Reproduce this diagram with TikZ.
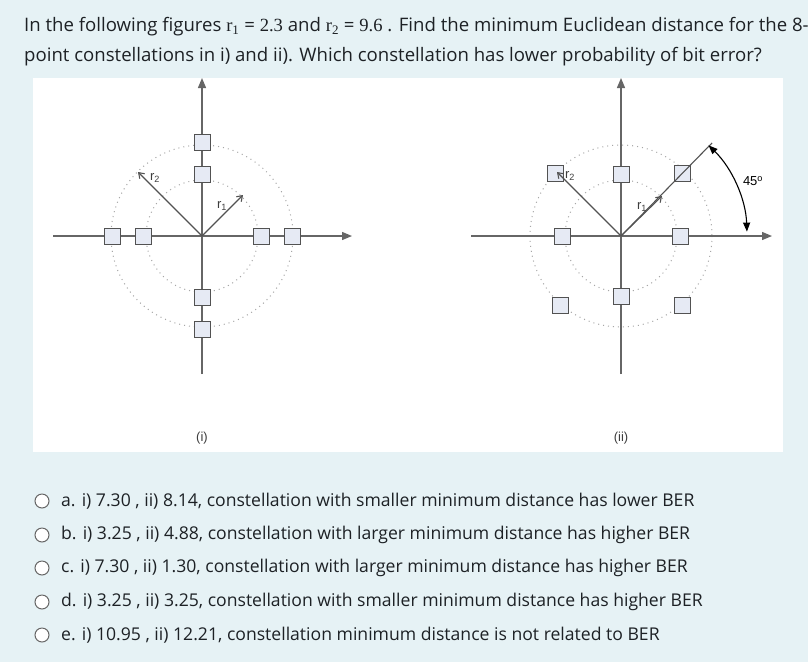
\documentclass[tikz,border=0pt]{standalone}
\usepackage{fontspec}
\setmainfont{Open Sans}
\newfontfamily\serifr{Liberation Serif}
\newfontfamily\figf{Liberation Sans}
\usetikzlibrary{arrows.meta,calc}
\definecolor{bgc}{HTML}{E6F2F5}
\definecolor{txt}{HTML}{1D2125}
\definecolor{ax}{HTML}{666666}
\definecolor{boxf}{HTML}{E6EAF4}
\tikzset{
  axis/.style={draw=ax, line width=1.3pt},
  axarr/.style={axis, -{Triangle[length=10pt,width=8pt]}, draw=ax},
  pt/.style={draw=ax!80!black, fill=boxf, line width=1pt, minimum size=16pt, inner sep=0pt},
  ring/.style={draw=gray!70, line width=1pt, dash pattern=on 1pt off 4pt},
  vec/.style={draw=ax!80!black, line width=1.1pt, -{Straight Barb[length=5pt,width=7pt]}},
  lab/.style={font=\figf\fontsize{13}{15}\selectfont, text=ax!60!black},
  q/.style={font=\fontsize{17.6}{20}\selectfont, text=txt, anchor=west, inner sep=0pt},
  qq/.style={font=\fontsize{18.6}{21}\selectfont, text=txt, anchor=west, inner sep=0pt},
  opt/.style={draw=ax, line width=1pt, fill=white, circle, minimum size=14pt, inner sep=0pt}
}
\begin{document}
\begin{tikzpicture}[x=1pt,y=-1pt]
\fill[bgc] (0,0) rectangle (808,662);
\useasboundingbox (0,0) rectangle (808,662);
\fill[white] (33,78) rectangle (783,452);
\node[qq] (q1) at (24,27) {In the following figures {\serifr r\textsubscript{1}} = {\serifr 2.3} and {\serifr r\textsubscript{2}} = {\serifr 9.6} . Find the minimum Euclidean distance for the 8-};
\node[qq] (q2) at (24,57) {point constellations in i) and ii). Which constellation has lower probability of bit error?};
% ---- figure (i)
\coordinate (o1) at (202,236);
\draw[ring] (o1) circle[radius=56];
\draw[ring] (o1) circle[radius=91];
\coordinate (l1) at (53,236); \coordinate (r1e) at (352,236);
\coordinate (t1) at (202,78); \coordinate (b1) at (202,374);
\draw[axis] (l1) -- (o1);
\draw[axarr] (o1) -- (r1e);
\draw[axarr] (b1) -- (t1);
\draw[vec] (o1) -- ++(-64,-64) coordinate (v12);
\draw[vec] (o1) -- ++(41,-41) coordinate (v11);
\node[lab] (rl12) at (155,178) {r\textsubscript{2}};
\node[lab] (rl11) at (222,206) {r\textsubscript{1}};
\foreach \n/\dx/\dy in {a/-90/0,b/-59/0,c/59/0,d/90/0,e/0/-94,f/0/-62,g/0/61,h/0/93}
  \node[pt] (p1\n) at ($(o1)+(\dx,\dy)$) {};
\node[lab] (cap1) at (202,438) {(i)};
% ---- figure (ii)
\coordinate (o2) at (621,236);
\draw[ring] (o2) circle[radius=56];
\draw[ring] (o2) circle[radius=91];
\coordinate (l2) at (471,236); \coordinate (r2e) at (772,236);
\coordinate (t2) at (621,78); \coordinate (b2) at (621,374);
\draw[axis] (l2) -- (o2);
\draw[axarr] (o2) -- (r2e);
\draw[axarr] (b2) -- (t2);
\foreach \n/\dx/\dy in {a/-59/0,b/59/0,c/0/-62,d/0/60,e/-66/-63,f/61/-63,g/-61/69,h/61/69}
  \node[pt] (p2\n) at ($(o2)+(\dx,\dy)$) {};
\draw[vec] (o2) -- ++(-64,-64) coordinate (v22);
\draw[vec] (o2) -- ++(41,-40) coordinate (v21);
\draw[draw=ax!80!black, line width=1.1pt] (o2) -- ++(91,-93) coordinate (d2);
\draw[draw=black, line width=1.1pt, {Triangle[length=9pt,width=7pt]}-{Triangle[length=9pt,width=7pt]}] ($(o2)+(-46:126)$) arc[start angle=-46, end angle=-2, radius=126];
\node[lab] (rl22) at (570,176) {r\textsubscript{2}};
\node[lab] (rl21) at (642,207) {r\textsubscript{1}};
\node[lab, text=black] (ang) at (753,181) {45\textsuperscript{o}};
\node[lab] (cap2) at (621,438) {(ii)};
% ---- options
\foreach \i/\y/\t in {a/501/{a. i) 7.30 , ii) 8.14, constellation with smaller minimum distance has lower BER},
  b/535/{b. i) 3.25 , ii) 4.88, constellation with larger minimum distance has higher BER},
  c/568/{c. i) 7.30 , ii) 1.30, constellation with larger minimum distance has higher BER},
  d/602/{d. i) 3.25 , ii) 3.25, constellation with smaller minimum distance has higher BER},
  e/635/{e. i) 10.95 , ii) 12.21, constellation minimum distance is not related to BER}} {
  \node[opt] (o\i) at (42,\y) {};
  \node[q] (t\i) at (61,\y) {\t};
}
\end{tikzpicture}
\end{document}
